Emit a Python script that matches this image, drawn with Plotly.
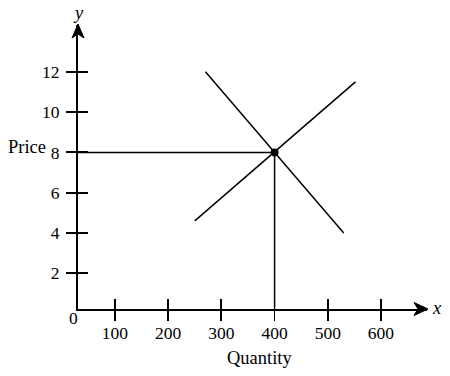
import plotly.graph_objects as go

# Data
x_ticks = [100, 200, 300, 400, 500, 600]
y_ticks = [2, 4, 6, 8, 10, 12]
demand_q = [270, 530]
demand_p = [12, 4]
supply_q = [250, 552]
supply_p = [4.6, 11.5]
eq_q = 400
eq_p = 8

X_RANGE = [30.5, 686.5]
Y_RANGE = [0.23, 14.32]

FONT = "Liberation Serif"
W, H = 450, 376
ML, MR, MT, MB = 78, 23, 25, 67
PW, PH = W - ML - MR, H - MT - MB


def px(xp):
    return (xp - ML) / PW


def py(yp):
    return (H - MB - yp) / PH


fig = go.Figure()
line_style = dict(color="black", width=1.5)
fig.add_trace(go.Scatter(x=demand_q, y=demand_p, mode="lines", line=line_style, hoverinfo="skip"))
fig.add_trace(go.Scatter(x=supply_q, y=supply_p, mode="lines", line=line_style, hoverinfo="skip"))
fig.add_trace(go.Scatter(x=[X_RANGE[0], eq_q, eq_q], y=[eq_p, eq_p, Y_RANGE[0]], mode="lines",
                         line=line_style, hoverinfo="skip"))
fig.add_trace(go.Scatter(x=[eq_q], y=[eq_p], mode="markers",
                         marker=dict(color="black", size=8, symbol="circle"), hoverinfo="skip"))

axis_common = dict(showgrid=False, zeroline=False, ticks="outside", ticklen=10, tickwidth=1.8,
                   tickcolor="black", showline=True, linecolor="black", linewidth=2,
                   tickfont=dict(family=FONT, size=17.5, color="black"), fixedrange=True)

fig.update_layout(
    width=W, height=H,
    margin=dict(l=ML, r=MR, t=MT, b=MB),
    paper_bgcolor="white", plot_bgcolor="white",
    showlegend=False,
    hovermode=False,
    xaxis=dict(range=X_RANGE, tickvals=x_ticks, ticktext=[str(v) for v in x_ticks],
               ticklabelstandoff=-3, **axis_common),
    yaxis=dict(range=Y_RANGE, tickvals=y_ticks, ticktext=[str(v) for v in y_ticks],
               ticklabelstandoff=3, **axis_common),
    xaxis2=dict(range=X_RANGE, tickvals=x_ticks, ticks="inside", ticklen=10, tickwidth=1.8,
                tickcolor="black", showticklabels=False, showgrid=False, zeroline=False,
                overlaying="x", side="bottom", showline=False, anchor="y2", fixedrange=True),
    yaxis2=dict(range=Y_RANGE, tickvals=y_ticks, ticks="inside", ticklen=10, tickwidth=1.8,
                tickcolor="black", showticklabels=False, showgrid=False, zeroline=False,
                overlaying="y", side="left", showline=False, anchor="x2", fixedrange=True),
)
# dummy trace to activate overlay axes
fig.add_trace(go.Scatter(x=[None], y=[None], xaxis="x2", yaxis="y2", hoverinfo="skip"))


# Arrowheads (stealth style) in paper coords
def arrow_up(tx, ty):
    return (f"M {px(tx)} {py(ty)} L {px(tx-6)} {py(ty+14)} L {px(tx)} {py(ty+10)} "
            f"L {px(tx+6)} {py(ty+14)} Z")


def arrow_right(tx, ty):
    return (f"M {px(tx)} {py(ty)} L {px(tx-14)} {py(ty-6.5)} L {px(tx-10)} {py(ty)} "
            f"L {px(tx-14)} {py(ty+6.5)} Z")


fig.add_shape(type="path", xref="paper", yref="paper", path=arrow_up(78, 24),
              fillcolor="black", line=dict(color="black", width=1))
fig.add_shape(type="path", xref="paper", yref="paper", path=arrow_right(428, 309),
              fillcolor="black", line=dict(color="black", width=1))

labels = [
    ("y", 78, 13, True, 18.5),
    ("x", 437, 308, True, 18.5),
    ("Price", 27, 147, False, 18.5),
    ("Quantity", 259, 358, False, 18.5),
    ("0", 73, 318, False, 17.5),
]
for text, lx, ly, ital, fs in labels:
    fig.add_annotation(
        text=f"<i>{text}</i>" if ital else text,
        x=px(lx), y=py(ly), xref="paper", yref="paper",
        showarrow=False, xanchor="center", yanchor="middle",
        font=dict(family=FONT, size=fs, color="black"),
    )

fig.write_html("out.html", config={"displayModeBar": False, "staticPlot": True},
               post_script="document.body.style.margin='0';")
